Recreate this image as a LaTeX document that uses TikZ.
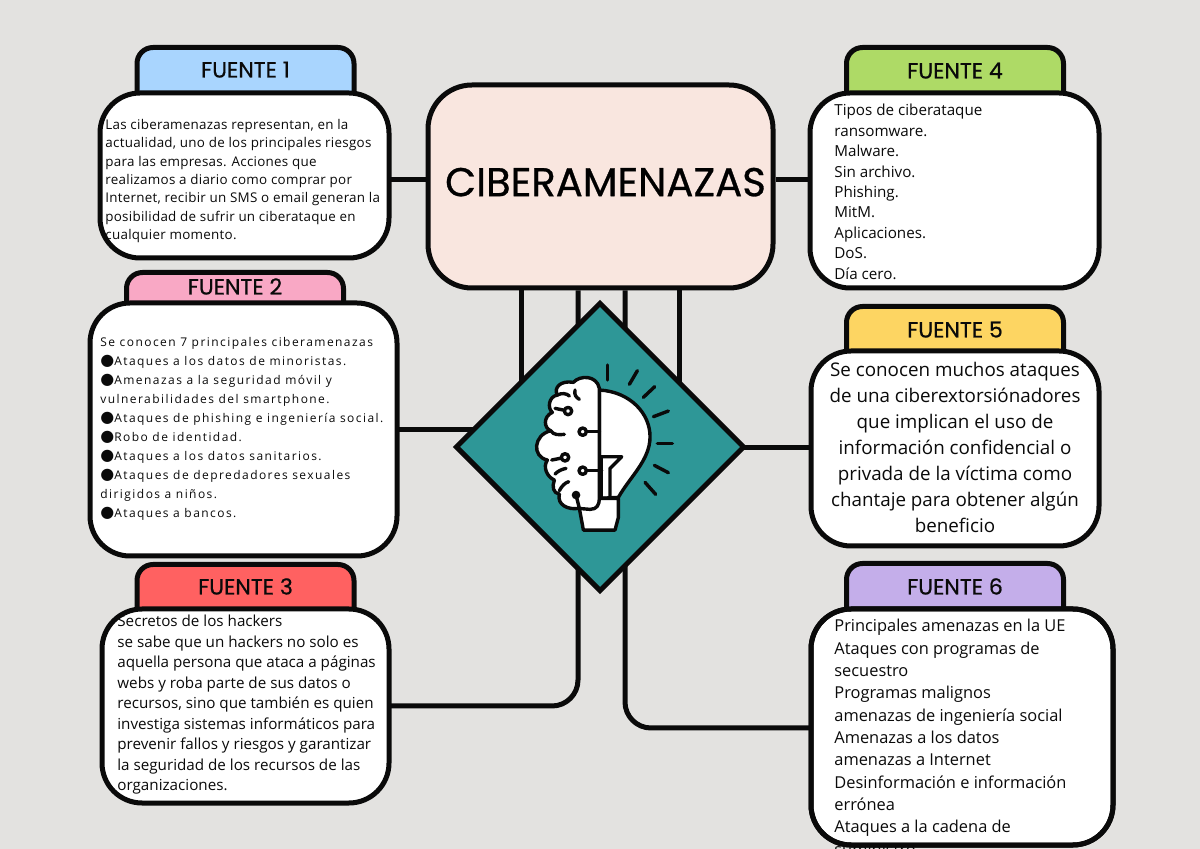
\documentclass[tikz,border=0pt]{standalone}
\usepackage{fontspec}
\setmainfont{Open Sans}
\newfontfamily\titlefont[FakeBold=0.7]{Poppins}
\newfontfamily\spacedfont[LetterSpace=12]{Open Sans}
\newfontfamily\widefont[LetterSpace=2]{Open Sans}
\newfontfamily\bulletfont{DejaVu Sans}
\usetikzlibrary{positioning,backgrounds,calc}
\pgfdeclarelayer{background}
\pgfsetlayers{background,main}
\definecolor{pagegray}{RGB}{227,226,224}
\definecolor{inkblack}{RGB}{10,10,10}
\definecolor{centrepeach}{RGB}{249,230,223}
\definecolor{diamondteal}{RGB}{46,151,151}
\definecolor{fuenteblue}{RGB}{169,213,254}
\definecolor{fuentepink}{RGB}{249,168,197}
\definecolor{fuentered}{RGB}{255,97,97}
\definecolor{fuentegreen}{RGB}{174,218,102}
\definecolor{fuenteyellow}{RGB}{253,213,98}
\definecolor{fuentepurple}{RGB}{196,174,234}
\newcommand{\bul}{{\bulletfont\fontsize{8}{9}\selectfont ●}}
\tikzset{
    x=0.5pt,y=-0.5pt,
    outlined/.style={draw=inkblack,line width=2.5pt},
    boxsize/.style 2 args={minimum width=#1*0.5pt,minimum height=#2*0.5pt},
    body box/.style={outlined,fill=white,rounded corners=20pt,inner sep=0pt,outer sep=0pt},
    tab box/.style n args={3}{
        outlined,
        fill=#1,
        anchor=north,
        rounded corners=8pt,
        inner xsep=0pt,
        inner ysep=0pt,
        minimum width=108.5pt,
        text height=#3*0.5pt,
        text depth=(#2-#3)*0.5pt,
        font=\titlefont\fontsize{11}{13}\selectfont,
        text=inkblack
    },
    body text/.style={anchor=north west,inner sep=0pt,align=left,text=inkblack},
    link/.style={draw=inkblack,line width=2.5pt},
    icon line/.style={draw=inkblack,line width=1.7pt,line cap=round,line join=round}
}
\begin{document}
\begin{tikzpicture}
    \clip (0,0) rectangle (1200,849);

    % tabs come first, the white boxes sit on them
    \node[tab box={fuenteblue}{65}{30}] (tab1) at (245.5,45) {FUENTE 1};
    \node[tab box={fuentepink}{50}{22}] (tab2) at (235,270) {FUENTE 2};
    \node[tab box={fuentered}{65}{30}] (tab3) at (245.5,562) {FUENTE 3};
    \node[tab box={fuentegreen}{65}{31}] (tab4) at (955,45) {FUENTE 4};
    \node[tab box={fuenteyellow}{65}{31}] (tab5) at (955,304) {FUENTE 5};
    \node[tab box={fuentepurple}{65}{31}] (tab6) at (955,561) {FUENTE 6};

    \node[body box,boxsize={289}{165}] (body1) at (244.5,175.5) {};
    \node[body box,boxsize={307}{253}] (body2) at (243.5,429.5) {};
    \node[body box,boxsize={287}{194}] (body3) at (245.5,706) {};
    \node[body box,boxsize={289}{195}] (body4) at (954.5,190.5) {};
    \node[body box,boxsize={288}{195}] (body5) at (955,448.5) {};
    \node[body box,boxsize={302}{236}] (body6) at (962,727) {};

    \node[outlined,fill=centrepeach,rounded corners=22pt,boxsize={345}{203},inner sep=0pt] (centre) at (600.5,186.5)
        {\hspace*{5pt}\raisebox{4.5pt}{\titlefont\fontsize{20.1}{24}\selectfont CIBERAMENAZAS}};

    \node[outlined,fill=diamondteal,shape=rectangle,minimum size=101.5pt,rotate=45,inner sep=0pt] (hub) at (600,447) {};

    % connectors
    \begin{pgfonlayer}{background}
        \fill[pagegray] (0,0) rectangle (1200,849);
        \coordinate (drop1) at ($(centre.south)+(-79.5,0)$);
        \coordinate (drop2) at ($(centre.south)+(-22.5,0)$);
        \coordinate (drop3) at ($(centre.south)+(24.5,0)$);
        \coordinate (drop4) at ($(centre.south)+(78.5,0)$);
        \draw[link] (body1.east |- 0,180) -- (centre.west |- 0,180);
        \draw[link] (centre.east |- 0,180) -- (body4.west |- 0,180);
        \draw[link] (drop1) -- ++(0,120);
        \draw[link] (drop4) -- ++(0,120);
        \draw[link,rounded corners=13pt] (drop2) -- (drop2 |- body3.east) -- (body3.east);
        \draw[link,rounded corners=13pt] (drop3) -- (drop3 |- 0,728) -- (body6.west |- 0,728);
        \draw[link] (body2.east |- 0,430) -- (hub.center |- 0,430);
        \draw[link] (hub.center |- 0,448) -- (body5.west |- 0,448);
    \end{pgfonlayer}

    \node[body text,font=\widefont\fontsize{6.7}{9.15}\selectfont] (text1) at (105,119) {Las ciberamenazas representan, en la\\actualidad, uno de los principales riesgos\\para las empresas. Acciones que\\realizamos a diario como comprar por\\Internet, recibir un SMS o email generan la\\posibilidad de sufrir un ciberataque en\\cualquier momento.};
    \node[body text,font=\spacedfont\fontsize{6}{9.5}\selectfont] (text2) at (100,337) {Se conocen 7 principales ciberamenazas\\\bul Ataques a los datos de minoristas.\\\bul Amenazas a la seguridad móvil y\\vulnerabilidades del smartphone.\\\bul Ataques de phishing e ingeniería social.\\\bul Robo de identidad.\\\bul Ataques a los datos sanitarios.\\\bul Ataques de depredadores sexuales\\dirigidos a niños.\\\bul Ataques a bancos.};
    \node[body text,font=\fontsize{7.6}{10.25}\selectfont] (text3) at (117,615) {Secretos de los hackers\\se sabe que un hackers no solo es\\aquella persona que ataca a páginas\\webs y roba parte de sus datos o\\recursos, sino que también es quien\\investiga sistemas informáticos para\\prevenir fallos y riesgos y garantizar\\la seguridad de los recursos de las\\organizaciones.};
    \node[body text,font=\fontsize{7.6}{10.2}\selectfont] (text4) at (834,104) {Tipos de ciberataque\\ransomware.\\Malware.\\Sin archivo.\\Phishing.\\MitM.\\Aplicaciones.\\DoS.\\Día cero.};
    \node[body text,anchor=north,align=center,font=\fontsize{9.4}{13}\selectfont] (text5) at (955,362) {Se conocen muchos ataques\\de una ciberextorsiónadores\\que implican el uso de\\información confidencial o\\privada de la víctima como\\chantaje para obtener algún\\beneficio};
    \node[body text,font=\fontsize{8.2}{11.17}\selectfont] (text6) at (834,619) {Principales amenazas en la UE\\Ataques con programas de\\secuestro\\Programas malignos\\amenazas de ingeniería social\\Amenazas a los datos\\amenazas a Internet\\Desinformación e información\\errónea\\Ataques a la cadena de\\suministro};
    % the last line runs under the frame
    \draw[outlined,rounded corners=20pt] (body6.south west) rectangle (body6.north east);

    % brain and bulb, traced from the hub
    \begin{scope}[shift={(440,280)},x=0.1667pt,y=-0.1667pt]
        \draw[icon line,fill=white] (478,330) .. controls (570,335) and (630,400) .. (630,470)
            .. controls (630,540) and (570,590) .. (535,652) -- (478,655) -- cycle;
        \draw[icon line,fill=white] (418,685) -- (430,750) -- (525,750) -- (535,712) -- (535,655) -- (470,655) -- cycle;
        \draw[icon line,fill=white] (478,325) .. controls (470,285) and (420,285) .. (400,307)
            .. controls (360,300) and (340,325) .. (352,345)
            .. controls (325,350) and (322,385) .. (337,397)
            .. controls (308,410) and (312,445) .. (332,452)
            .. controls (280,465) and (275,530) .. (322,540)
            .. controls (308,560) and (320,590) .. (343,600)
            .. controls (335,620) and (340,640) .. (358,642)
            .. controls (350,675) and (385,690) .. (415,685)
            -- (450,688) .. controls (470,688) and (478,675) .. (478,655) -- cycle;
        \draw[icon line] (482,530) -- (545,530) -- (510,565) -- (510,650);
        \draw[icon line] (428,455) -- (478,455);
        \draw[icon line] (428,572) -- (485,572);
        \draw[icon line] (484,535) -- (484,650);
        \draw[icon line] (384,393) -- (345,385);
        \draw[icon line] (375,532) -- (335,540);
        \draw[icon line] (408,645) -- (418,685);
        \draw[icon line] (405,330) .. controls (402,345) and (408,352) .. (418,358);
        \draw[icon line] (352,345) .. controls (365,338) and (380,340) .. (388,348);
        \draw[icon line] (332,452) .. controls (340,465) and (355,465) .. (373,463);
        \draw[icon line] (345,582) .. controls (355,572) and (365,568) .. (378,565);
        \draw[icon line] (358,632) .. controls (365,618) and (375,608) .. (386,605);
        \foreach \cx/\cy in {384/393,428/455,375/532,428/572}
            \draw[icon line,fill=white] (\cx,\cy) circle[radius=11];
        \fill[inkblack] (408,645) circle[radius=13];
        \foreach \xa/\ya/\xb/\yb in {503/255/503/300,592/272/568/313,644/320/610/352,685/393/640/410,697/490/652/490,685/578/643/556,647/643/615/607}
            \draw[icon line] (\xa,\ya) -- (\xb,\yb);
    \end{scope}
\end{tikzpicture}
\end{document}
